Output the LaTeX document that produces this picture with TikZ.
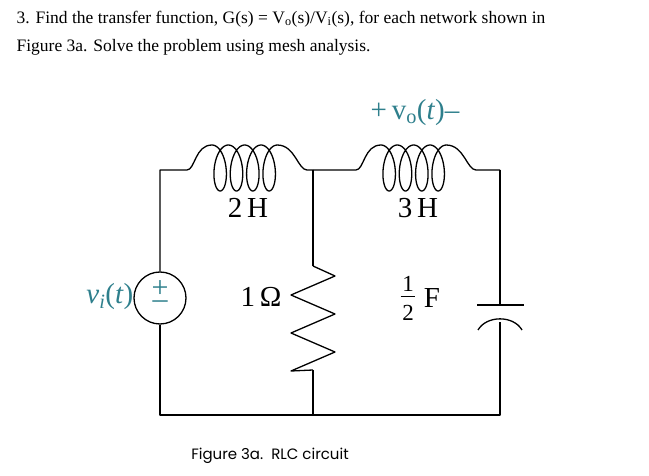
\documentclass[tikz,border=0pt]{standalone}
\usepackage{fontspec}
\setmainfont{Liberation Serif}
\newfontfamily\capfont{Poppins}
\definecolor{teal1}{HTML}{2E7F8C}
\begin{document}
\begin{tikzpicture}[x=1pt,y=-1pt,line width=1.3pt,
  wire/.style={draw,line join=round},
  lbl/.style={font=\fontsize{29}{30}\selectfont,inner sep=0pt},
  flbl/.style={font=\fontsize{23}{24}\selectfont,inner sep=0pt},
  tlbl/.style={font=\fontsize{29}{30}\selectfont,inner sep=0pt,text=teal1}]
\useasboundingbox (0,0) rectangle (649,476);
\node[anchor=west,inner sep=0pt,font=\fontsize{17.5}{20}\selectfont] (t1) at (16,19) {3. Find the transfer function, G(s) = V\textsubscript{o}(s)/V\textsubscript{i}(s), for each network shown in};
\node[anchor=west,inner sep=0pt,font=\fontsize{17.5}{20}\selectfont] (t2) at (16,47) {Figure 3a. Solve the problem using mesh analysis.};
% nodes
\coordinate (tl) at (160,170);
\coordinate (tm) at (313,170);
\coordinate (tr) at (500,170);
\coordinate (bl) at (160,415);
\coordinate (bm) at (313,415);
\coordinate (br) at (500,415);
\node[circle,draw,minimum size=52pt,inner sep=0pt] (src) at (160,298) {};
\node[inner sep=0pt,font=\fontsize{30}{30}\selectfont,text=teal1] (pl) at (160,289) {+};
\node[inner sep=0pt,font=\fontsize{30}{30}\selectfont,text=teal1] (mi) at (160,305) {–};
\coordinate (r1) at (313,266);
\coordinate (r2) at (313,370);
\coordinate (c1) at (500,305);
\coordinate (c2) at (500,322);
% wires
\draw[wire] (src.south) -- (bl) -- (bm) -- (br) -- (c2);
\draw[wire] (bm) -- (r2);
\draw[wire] (r1) -- (tm);
\draw[wire] (tr) -- (c1);
\draw[wire] (r1) -- ++(22,10) -- ++(-44,19) -- ++(44,19) -- ++(-44,19) -- ++(44,19) -- ++(-44,19) -- (r2);
\draw[wire] (477,305) -- (524,305);
\draw[wire] (478,330) to[bend left=60] (522,330);
% inductors
\draw[wire] (src.north) -- (tl) -- (187,170) .. controls (195,170) and (195,145) .. (212,145)
  plot[domain=0:25.13,samples=200,variable=\t] ({212+2.6*\t+10*sin(\t r)},{168-23*cos(\t r)})
  .. controls (295,145) and (298,170) .. (307,170) -- (tm);
\draw[wire] (tm) -- (356,170) .. controls (364,170) and (364,145) .. (381,145)
  plot[domain=0:25.13,samples=200,variable=\t] ({381+2.6*\t+10*sin(\t r)},{168-23*cos(\t r)})
  .. controls (464,145) and (467,170) .. (476,170) -- (tr);
% labels
\node[lbl] (l2h) at (248,208) {2\,H};
\node[lbl] (l3h) at (418,208) {3\,H};
\node[lbl] (lr) at (261,297) {1\,Ω};
\node[flbl] (fn) at (408,284) {1};
\node[flbl] (fd) at (408,313) {2};
\draw[line width=1pt] (fn.south west) ++(-1,4) -- ++(14,0);
\node[lbl] (lf) at (432,298) {F};
\node[tlbl,anchor=east] (vi) at (134,297) {\textit{v}\textsubscript{\textit{i}}(\textit{t})};
\node[tlbl] (vo) at (415,113) {+\,v\textsubscript{o}(\textit{t})–};
\node[font=\capfont\fontsize{15}{16}\selectfont,inner sep=0pt] (cap) at (270,456) {Figure 3a.\ \ RLC circuit};
\end{tikzpicture}
\end{document}
